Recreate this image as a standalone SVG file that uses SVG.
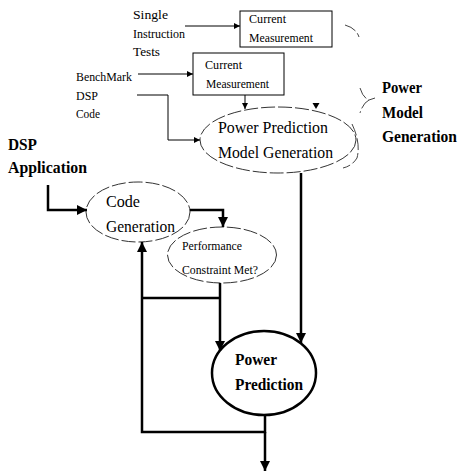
<svg xmlns="http://www.w3.org/2000/svg" width="474" height="472" viewBox="0 0 474 472" font-family="'Liberation Serif', 'DejaVu Serif', serif">
<defs>
<style>
text{font-family:'Liberation Serif','DejaVu Serif',serif;fill:#000}
.s{font-size:12px}
.m{font-size:17px}
.b{font-size:17px;font-weight:bold}
.box{fill:#fff;stroke:#000;stroke-width:1}
.dash{fill:#fff;stroke:#333;stroke-width:1;stroke-dasharray:14 3}
.thin{fill:none;stroke:#000;stroke-width:1}
.thick{fill:none;stroke:#000;stroke-width:2.5}
.br{fill:none;stroke:#444;stroke-width:1;stroke-dasharray:12 3}
</style>
<marker id="ah" viewBox="0 0 10 10" refX="10" refY="5" markerWidth="6" markerHeight="6" markerUnits="userSpaceOnUse" orient="auto"><path d="M0,0 L10,5 L0,10 z" fill="#000"/></marker>
<marker id="AH" viewBox="0 0 10 10" refX="10" refY="5" markerWidth="11" markerHeight="10" markerUnits="userSpaceOnUse" orient="auto"><path d="M0,0 L10,5 L0,10 z" fill="#000"/></marker>
</defs>
<rect width="474" height="472" fill="#fff"/>

<g id="labels-top">
<text class="s" x="133" y="19" textLength="35" lengthAdjust="spacingAndGlyphs">Single</text>
<text class="s" x="133" y="38" textLength="52" lengthAdjust="spacingAndGlyphs">Instruction</text>
<text class="s" x="133" y="56" textLength="27" lengthAdjust="spacingAndGlyphs">Tests</text>
<text class="s" x="76" y="81" textLength="56" lengthAdjust="spacingAndGlyphs">BenchMark</text>
<text class="s" x="76" y="100" textLength="22" lengthAdjust="spacingAndGlyphs">DSP</text>
<text class="s" x="76" y="118" textLength="24" lengthAdjust="spacingAndGlyphs">Code</text>
</g>

<g id="current-measurement-1">
<rect class="box" x="240" y="11" width="92" height="36"/>
<text class="s" x="249" y="23" textLength="37" lengthAdjust="spacingAndGlyphs">Current</text>
<text class="s" x="249" y="42" textLength="64" lengthAdjust="spacingAndGlyphs">Measurement</text>
</g>

<g id="current-measurement-2">
<rect class="box" x="193" y="53" width="91" height="42"/>
<text class="s" x="205" y="69" textLength="37" lengthAdjust="spacingAndGlyphs">Current</text>
<text class="s" x="206" y="88" textLength="63" lengthAdjust="spacingAndGlyphs">Measurement</text>
</g>

<g id="power-model-generation">
<ellipse class="dash" cx="278" cy="140" rx="78" ry="33"/>
<text class="m" x="218" y="133" textLength="110" lengthAdjust="spacingAndGlyphs">Power Prediction</text>
<text class="m" x="218" y="158" textLength="115" lengthAdjust="spacingAndGlyphs">Model Generation</text>
</g>

<g id="brace">
<path class="br" d="M345,25 Q356,28 359,37"/>
<path class="br" d="M360,88 Q363,98 369,100 Q363,103 360,113 M369,100 L375,98"/>
<path class="br" d="M352,124 Q361,143 357,158 Q352,166 343,168"/>
<text class="b" x="382" y="93" textLength="40" lengthAdjust="spacingAndGlyphs">Power</text>
<text class="b" x="382" y="118" textLength="41" lengthAdjust="spacingAndGlyphs">Model</text>
<text class="b" x="382" y="142" textLength="75" lengthAdjust="spacingAndGlyphs">Generation</text>
</g>

<g id="dsp-application">
<text class="b" x="8" y="150" textLength="29" lengthAdjust="spacingAndGlyphs">DSP</text>
<text class="b" x="8" y="173" textLength="79" lengthAdjust="spacingAndGlyphs">Application</text>
</g>

<g id="code-generation">
<ellipse class="dash" cx="138" cy="212" rx="52" ry="30"/>
<text class="m" x="106" y="207" textLength="34" lengthAdjust="spacingAndGlyphs">Code</text>
<text class="m" x="106" y="232" textLength="69" lengthAdjust="spacingAndGlyphs">Generation</text>
</g>

<g id="performance-constraint">
<ellipse class="dash" cx="222" cy="255" rx="54.5" ry="28"/>
<text class="s" x="182" y="250" textLength="60" lengthAdjust="spacingAndGlyphs">Performance</text>
<text class="s" x="182" y="274" textLength="76" lengthAdjust="spacingAndGlyphs">Constraint Met?</text>
</g>

<g id="power-prediction">
<ellipse cx="264" cy="373" rx="52" ry="42" fill="#fff" stroke="#000" stroke-width="2.5"/>
<text class="b" x="235" y="365" textLength="42" lengthAdjust="spacingAndGlyphs">Power</text>
<text class="b" x="235" y="390" textLength="68" lengthAdjust="spacingAndGlyphs">Prediction</text>
</g>

<g id="connectors">
<line class="thin" x1="185" y1="26" x2="240" y2="26" marker-end="url(#ah)"/>
<line class="thin" x1="138" y1="74" x2="193" y2="74" marker-end="url(#ah)"/>
<path class="thin" d="M137,95 H168 V140 H200" marker-end="url(#ah)"/>
<line class="thin" x1="245" y1="95" x2="245" y2="109" marker-end="url(#ah)"/>
<path d="M312.5,103 L319.5,103 L316,109 z" fill="#000"/>
<line class="thick" x1="301" y1="173" x2="301" y2="343" marker-end="url(#AH)"/>
<path class="thick" d="M48,185 V210 H87" marker-end="url(#AH)"/>
<path class="thick" d="M190,210 H223 V227" marker-end="url(#AH)"/>
<path class="thick" d="M220,283 V351" marker-end="url(#AH)"/>
<path class="thick" d="M265,415 V432 H142 V242" marker-end="url(#AH)"/>
<path class="thick" d="M142,298 H220"/>
<path class="thick" d="M265,432 V471" marker-end="url(#AH)"/>
</g>
</svg>
